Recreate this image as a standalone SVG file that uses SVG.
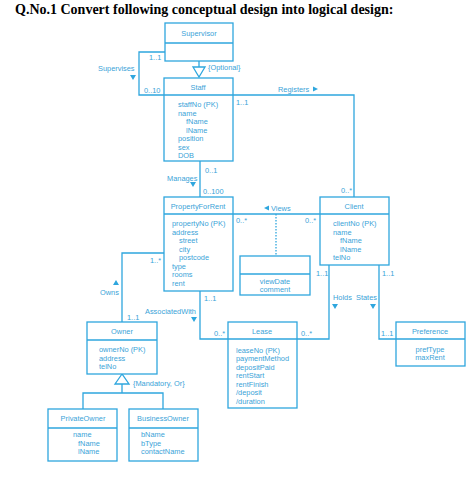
<svg xmlns="http://www.w3.org/2000/svg" width="474" height="481" viewBox="0 0 474 481">
<style>
.t{font-family:"Liberation Serif",serif;font-weight:bold;font-size:14px;fill:#000}
.b{fill:#fff;stroke:#2ea6de;stroke-width:1.3}
.l{fill:none;stroke:#2ea6de;stroke-width:1.3}
.d{fill:none;stroke:#2ea6de;stroke-width:1.3;stroke-dasharray:1.5 1.5}
text.s{font-family:"Liberation Sans",Arial,sans-serif;font-size:7.4px;fill:#3aa3d8}
.c{text-anchor:middle}
.m{fill:#2ea6de}
</style>
<rect width="474" height="481" fill="#fff"/>
<text class="t" x="15" y="14">Q.No.1 Convert following conceptual design into logical design:</text>

<g id="connectors">
  <!-- Supervises -->
  <polyline class="l" points="165,52 139,52 139,95 164,95"/>
  <!-- generalization Supervisor-Staff -->
  <line class="l" x1="199" y1="61" x2="199" y2="67"/>
  <polygon class="b" points="193,67 205,67 199,77"/>
  <!-- Registers -->
  <polyline class="l" points="233,95 354,95 354,197"/>
  <!-- Manages -->
  <line class="l" x1="200" y1="161" x2="200" y2="197"/>
  <!-- Views -->
  <line class="l" x1="233" y1="214" x2="320" y2="214"/>
  <line class="d" x1="276" y1="214" x2="276" y2="256"/>
  <!-- Owns -->
  <polyline class="l" points="164,253 122,253 122,322"/>
  <!-- AssociatedWith -->
  <polyline class="l" points="200,291 200,339 228,339"/>
  <!-- Holds -->
  <polyline class="l" points="329,265 329,339 297,339"/>
  <!-- States -->
  <polyline class="l" points="379,265 379,339 396,339"/>
  <!-- generalization Owner -->
  <polygon class="b" points="122,374 115,384 129,384"/>
  <line class="l" x1="122" y1="384" x2="122" y2="393"/>
  <polyline class="l" points="83,409 83,393 163,393 163,409"/>

  <!-- labels -->
  <text class="s" x="149" y="60">1..1</text>
  <text class="s" x="98" y="71">Supervises</text>
  <polygon class="m" points="130,75 136,75 133,80"/>
  <text class="s" x="144" y="93">0..10</text>
  <text class="s" x="208" y="70">{Optional}</text>
  <text class="s" x="278" y="92">Registers</text>
  <polygon class="m" points="313,86.5 313,91.5 318,89"/>
  <text class="s" x="236" y="105">1..1</text>
  <text class="s" x="341" y="193">0..*</text>
  <text class="s" x="205" y="173">0..1</text>
  <text class="s" x="167" y="181">Manages</text>
  <polygon class="m" points="190,182 196,182 193,187"/>
  <text class="s" x="203" y="194">0..100</text>
  <text class="s" x="271" y="211">Views</text>
  <polygon class="m" points="269,205.5 269,210.5 264,208"/>
  <text class="s" x="236" y="223">0..*</text>
  <text class="s" x="305" y="223">0..*</text>
  <text class="s" x="150" y="263">1..*</text>
  <polygon class="m" points="113,285 119,285 116,280"/>
  <text class="s" x="100" y="295">Owns</text>
  <text class="s" x="127" y="320">1..1</text>
  <text class="s" x="204" y="301">1..1</text>
  <text class="s" x="145" y="314">AssociatedWith</text>
  <polygon class="m" points="191,317 197,317 194,322"/>
  <text class="s" x="214" y="336">0..*</text>
  <text class="s" x="301" y="336">0..*</text>
  <text class="s" x="316" y="276">1..1</text>
  <text class="s" x="382" y="276">1..1</text>
  <text class="s" x="333" y="300">Holds</text>
  <text class="s" x="356" y="300">States</text>
  <polygon class="m" points="332,304 338,304 335,309"/>
  <polygon class="m" points="370,304 376,304 373,309"/>
  <text class="s" x="381" y="336">1..1</text>
  <text class="s" x="133" y="386">{Mandatory, Or}</text>
</g>

<g id="supervisor">
  <rect class="b" x="165" y="23" width="68" height="38"/>
  <line class="l" x1="165" y1="43" x2="233" y2="43"/>
  <text class="s c" x="199" y="36">Supervisor</text>
</g>

<g id="staff">
  <rect class="b" x="164" y="78" width="69" height="83"/>
  <line class="l" x1="164" y1="95" x2="233" y2="95"/>
  <text class="s c" x="198" y="90">Staff</text>
  <text class="s" x="178" y="107">staffNo (PK)</text>
  <text class="s" x="178" y="115.5">name</text>
  <text class="s" x="186" y="124">fName</text>
  <text class="s" x="186" y="132.5">lName</text>
  <text class="s" x="178" y="141">position</text>
  <text class="s" x="178" y="149.5">sex</text>
  <text class="s" x="178" y="158">DOB</text>
</g>

<g id="propertyforrent">
  <rect class="b" x="164" y="197" width="69" height="94"/>
  <line class="l" x1="164" y1="214" x2="233" y2="214"/>
  <text class="s c" x="198" y="209">PropertyForRent</text>
  <text class="s" x="172" y="226">propertyNo (PK)</text>
  <text class="s" x="172" y="234.5">address</text>
  <text class="s" x="179" y="243">street</text>
  <text class="s" x="179" y="251.5">city</text>
  <text class="s" x="179" y="260">postcode</text>
  <text class="s" x="172" y="268.5">type</text>
  <text class="s" x="172" y="277">rooms</text>
  <text class="s" x="172" y="285.5">rent</text>
</g>

<g id="viewing">
  <rect class="b" x="240" y="256" width="70" height="39"/>
  <line class="l" x1="240" y1="274" x2="310" y2="274"/>
  <text class="s c" x="275" y="284">viewDate</text>
  <text class="s c" x="275" y="292">comment</text>
</g>

<g id="client">
  <rect class="b" x="320" y="197" width="69" height="68"/>
  <line class="l" x1="320" y1="214" x2="389" y2="214"/>
  <text class="s c" x="354" y="209">Client</text>
  <text class="s" x="333" y="226">clientNo (PK)</text>
  <text class="s" x="333" y="234.5">name</text>
  <text class="s" x="340" y="243">fName</text>
  <text class="s" x="340" y="251.5">lName</text>
  <text class="s" x="333" y="260">telNo</text>
</g>

<g id="owner">
  <rect class="b" x="87" y="322" width="70" height="52"/>
  <line class="l" x1="87" y1="340" x2="157" y2="340"/>
  <text class="s c" x="122" y="334">Owner</text>
  <text class="s" x="99" y="352">ownerNo (PK)</text>
  <text class="s" x="99" y="360.5">address</text>
  <text class="s" x="99" y="369">telNo</text>
</g>

<g id="lease">
  <rect class="b" x="228" y="322" width="69" height="86"/>
  <line class="l" x1="228" y1="339" x2="297" y2="339"/>
  <text class="s c" x="262" y="334">Lease</text>
  <text class="s" x="236" y="352.5">leaseNo (PK)</text>
  <text class="s" x="236" y="361">paymentMethod</text>
  <text class="s" x="236" y="369.5">depositPaid</text>
  <text class="s" x="236" y="378">rentStart</text>
  <text class="s" x="236" y="386.5">rentFinish</text>
  <text class="s" x="236" y="395">/deposit</text>
  <text class="s" x="236" y="403.5">/duration</text>
</g>

<g id="preference">
  <rect class="b" x="396" y="322" width="69" height="44"/>
  <line class="l" x1="396" y1="339" x2="465" y2="339"/>
  <text class="s c" x="430" y="334">Preference</text>
  <text class="s c" x="430" y="351.5">prefType</text>
  <text class="s c" x="430" y="360">maxRent</text>
</g>

<g id="privateowner">
  <rect class="b" x="48" y="409" width="69" height="52"/>
  <line class="l" x1="48" y1="428" x2="117" y2="428"/>
  <text class="s c" x="83" y="421">PrivateOwner</text>
  <text class="s" x="73" y="437">name</text>
  <text class="s" x="78" y="445.5">fName</text>
  <text class="s" x="78" y="454">lName</text>
</g>

<g id="businessowner">
  <rect class="b" x="129" y="409" width="69" height="52"/>
  <line class="l" x1="129" y1="428" x2="198" y2="428"/>
  <text class="s c" x="163" y="421">BusinessOwner</text>
  <text class="s" x="141" y="437">bName</text>
  <text class="s" x="141" y="445.5">bType</text>
  <text class="s" x="141" y="454">contactName</text>
</g>
</svg>
